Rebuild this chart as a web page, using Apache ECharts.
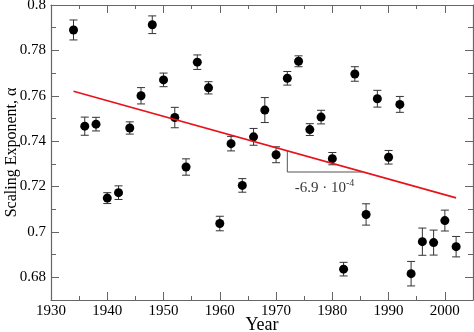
<!DOCTYPE html>
<html>
<head>
<meta charset="utf-8">
<script src="https://cdn.jsdelivr.net/npm/echarts@6/dist/echarts.min.js"></script>
<style>html,body{margin:0;padding:0;background:#fff}#c{width:474px;height:332px}</style>
</head>
<body>
<div id="c"></div>
<script>
var years = [1934,1936,1938,1940,1942,1944,1946,1948,1950,1952,1954,1956,1958,1960,1962,1964,1966,1968,1970,1972,1974,1976,1978,1980,1982,1984,1986,1988,1990,1992,1994,1996,1998,2000,2002];
var alpha = [0.789,0.7466,0.7475,0.7149,0.7173,0.7458,0.760,0.7913,0.767,0.7504,0.7286,0.7748,0.7635,0.7037,0.7389,0.7205,0.7419,0.7537,0.734,0.7677,0.7752,0.7451,0.7506,0.7323,0.6836,0.7696,0.7077,0.7587,0.7329,0.7562,0.6816,0.6957,0.6953,0.705,0.6935];
var errors = [0.0044,0.004,0.003,0.0024,0.003,0.0027,0.0036,0.0039,0.003,0.0045,0.0036,0.0032,0.0027,0.0032,0.0032,0.003,0.0037,0.0055,0.0035,0.003,0.0024,0.0026,0.003,0.0027,0.003,0.0032,0.0047,0.0037,0.003,0.0035,0.0054,0.006,0.0055,0.0046,0.0045];
var fitYears = [1934, 2002];
var fitValues = [0.762, 0.715];
var triYears = [1972, 1972, 1985.3];
var triValues = [0.7357, 0.7264, 0.7264];
var slopeLabelPos = [1978.6, 0.7195];
var yMajorTicks = [0.68, 0.70, 0.72, 0.74, 0.76, 0.78, 0.80];
var yMinorTicks = [0.67, 0.69, 0.71, 0.73, 0.75, 0.77, 0.79];

var FONT = '"Liberation Serif", "DejaVu Serif", serif';
var AX = '#666';

var pts = years.map(function(y, i){ return [y, alpha[i]]; });
var errData = years.map(function(y, i){ return [y, alpha[i] - errors[i], alpha[i] + errors[i]]; });
var fitData = fitYears.map(function(y, i){ return [y, fitValues[i]]; });
var triData = triYears.map(function(y, i){ return [y, triValues[i]]; });

function xAx(pos, showLabel, name){
  return {
    type: 'value', position: pos, min: 1930, max: 2005, interval: 10,
    axisLine: {show: true, onZero: false, lineStyle: {color: AX, width: 1.2}},
    axisTick: {show: true, inside: true, length: 8, lineStyle: {color: AX}},
    minorTick: {show: true, splitNumber: 2, length: 4, lineStyle: {color: AX}},
    splitLine: {show: false},
    axisLabel: {show: showLabel, color: '#000', fontFamily: FONT, fontSize: 15, margin: 4,
      formatter: function(v){ return v <= 2000 ? String(v) : ''; }},
    name: name || '', nameLocation: 'middle', nameGap: 16, nameMoveOverlap: false,
    nameTextStyle: {color: '#000', fontFamily: FONT, fontSize: 18}
  };
}
function yAx(pos, showLabel, values, len, showLine, name){
  return {
    type: 'value', position: pos, min: 0.67, max: 0.8,
    axisLine: {show: showLine, onZero: false, lineStyle: {color: AX, width: 1.2}},
    axisTick: {show: true, inside: true, length: len, customValues: values, lineStyle: {color: AX}},
    splitLine: {show: false},
    axisLabel: {show: showLabel, customValues: values, color: '#000', fontFamily: FONT, fontSize: 15, margin: 5},
    name: name || '', nameLocation: 'middle', nameGap: 31, nameMoveOverlap: false,
    nameTextStyle: {color: '#000', fontFamily: FONT, fontSize: 16}
  };
}

var chart = echarts.init(document.getElementById('c'), null, {renderer: 'canvas'});
chart.setOption({
  animation: false,
  backgroundColor: '#fff',
  grid: {left: 51, right: 1, top: 5, bottom: 32, containLabel: false, outerBoundsMode: 'none'},
  xAxis: [xAx('bottom', true, 'Year'), xAx('top', false)],
  yAxis: [
    yAx('left', true, yMajorTicks, 8, true, 'Scaling Exponent, \u03b1'),
    yAx('left', false, yMinorTicks, 5, false),
    yAx('right', false, yMajorTicks, 8, true),
    yAx('right', false, yMinorTicks, 5, false)
  ],
  series: [
    {
      type: 'custom', xAxisIndex: 0, yAxisIndex: 0, data: errData, z: 2,
      renderItem: function(params, api){
        var lo = api.coord([api.value(0), api.value(1)]);
        var hi = api.coord([api.value(0), api.value(2)]);
        var w = 4;
        var st = {stroke: '#333', lineWidth: 1};
        return {type: 'group', children: [
          {type: 'line', shape: {x1: lo[0], y1: lo[1], x2: hi[0], y2: hi[1]}, style: st},
          {type: 'line', shape: {x1: lo[0]-w, y1: lo[1], x2: lo[0]+w, y2: lo[1]}, style: st},
          {type: 'line', shape: {x1: hi[0]-w, y1: hi[1], x2: hi[0]+w, y2: hi[1]}, style: st}
        ]};
      }
    },
    {
      type: 'scatter', xAxisIndex: 0, yAxisIndex: 0, data: pts, symbol: 'circle', symbolSize: 9,
      itemStyle: {color: '#000', opacity: 1}, z: 3
    },
    {
      type: 'line', xAxisIndex: 0, yAxisIndex: 0, data: fitData, symbol: 'none',
      lineStyle: {color: '#e8121a', width: 1.6}, z: 4
    },
    {
      type: 'line', xAxisIndex: 0, yAxisIndex: 0, data: triData, symbol: 'none',
      lineStyle: {color: '#555', width: 1}, z: 1
    },
    {
      type: 'scatter', xAxisIndex: 0, yAxisIndex: 0, data: [slopeLabelPos], symbolSize: 0,
      label: {show: true, position: 'inside', fontFamily: FONT, fontSize: 15, color: '#000',
        formatter: '-6.9 \u00b7 10{s|-4}',
        rich: {s: {fontFamily: FONT, fontSize: 10, verticalAlign: 'top', padding: [0,0,8,0]}}},
      silent: true, z: 5
    }
  ]
});
</script>
</body>
</html>
